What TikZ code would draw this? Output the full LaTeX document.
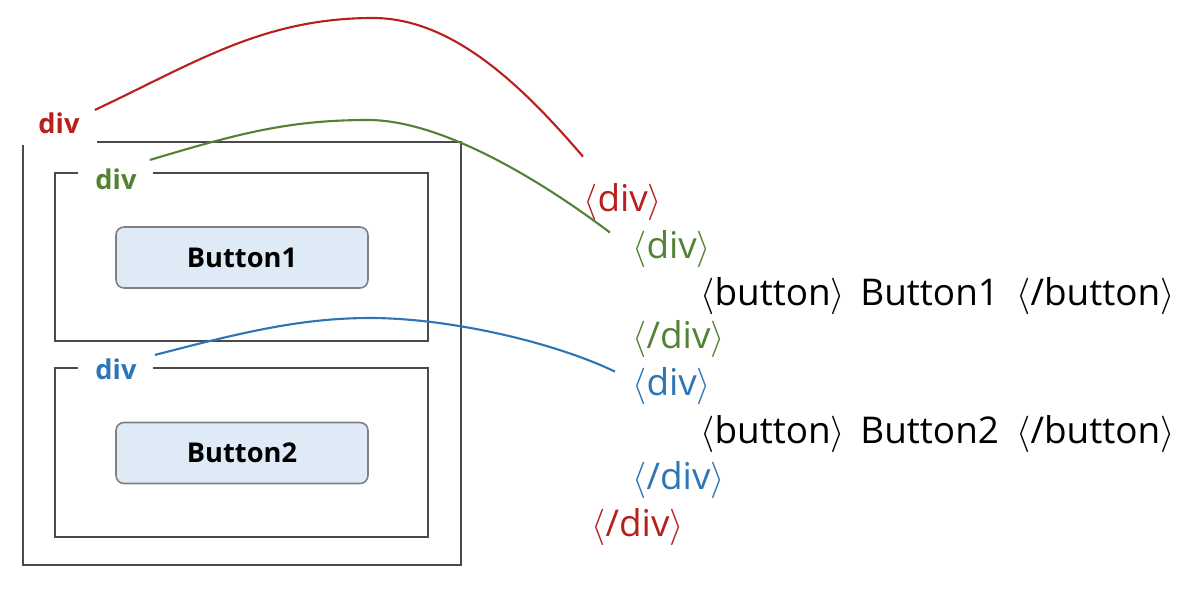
\documentclass[tikz,border=0pt]{standalone}
\usepackage{fontspec}
\setmainfont{Open Sans}
\usetikzlibrary{calc}
\definecolor{cred}{HTML}{B8201C}
\definecolor{cgreen}{HTML}{548235}
\definecolor{cblue}{HTML}{2E75B6}
\definecolor{bfill}{HTML}{DEEAF6}
\definecolor{bline}{HTML}{4A4A4A}
\newcommand\tagL{\ensuremath{\langle}}
\newcommand\tagR{\ensuremath{\rangle}}
\begin{document}
\begin{tikzpicture}[x=0.02cm,y=-0.02cm,
 boxline/.style={draw=bline, line width=1.1pt},
 lbl/.style={font=\fontsize{15.5}{18}\selectfont\bfseries, inner sep=0pt, anchor=base},
 btn/.style={draw=gray, fill=bfill, rounded corners=0.16cm, minimum width=5.04cm, minimum height=1.22cm, line width=0.9pt, font=\fontsize{15.5}{18}\selectfont\bfseries, inner sep=0pt},
 code/.style={font=\fontsize{21}{25}\selectfont, inner sep=0pt, anchor=base west},
 link/.style={line width=1.2pt}]
\useasboundingbox (0,0) rectangle (1200,592);

% boxes
\draw[boxline] (97,142) -| (461,565) -| (23,145);
\draw[boxline] (153,173) -| (428,341) -| (55,173) -- (78,173);
\draw[boxline] (153,368) -| (428,537) -| (55,368) -- (78,368);

% labels
\node[lbl, text=cred] (rlab) at (59,133) {div};
\node[lbl, text=cgreen] (glab) at (116,189) {div};
\node[lbl, text=cblue] (blab) at (116,379) {div};
\node[btn] (b1) at (242,257.5) {Button1};
\node[btn] (b2) at (242,453) {Button2};

% code
\node[code,text=cred] (t1) at (583,211) {\tagL div\tagR};
\node[code,text=cgreen] (t2) at (632,258) {\tagL div\tagR};
\node[code] (t3a) at (700,305) {\tagL button\tagR};
\node[code] (t3b) at (860,305) {Button1};
\node[code] (t3c) at (1016,305) {\tagL/button\tagR};
\node[code,text=cgreen] (t4) at (632,348) {\tagL/div\tagR};
\node[code,text=cblue] (t5) at (632,395) {\tagL div\tagR};
\node[code] (t6a) at (700,443) {\tagL button\tagR};
\node[code] (t6b) at (860,443) {Button2};
\node[code] (t6c) at (1016,443) {\tagL/button\tagR};
\node[code,text=cblue] (t7) at (632,489) {\tagL/div\tagR};
\node[code,text=cred] (t8) at (591,536) {\tagL/div\tagR};

% connectors
\coordinate (rpk) at (373,18);
\coordinate (gpk) at (368,120);
\coordinate (bpk) at (370,318);
\draw[link,cred] ($(rlab.north east)+(15,-2)$) .. controls +(100,-47) and +(-110,0) .. (rpk)
  .. controls +(80,0) and +(-60,-70) .. ($(t1.north west)+(0,-26)$);
\draw[link,cgreen] ($(glab.north east)+(13,-8)$) .. controls +(90,-27) and +(-78,0) .. (gpk)
  .. controls +(82,0) and +(-50,-38) .. ($(t2.north west)+(-22,3)$);
\draw[link,cblue] ($(blab.north east)+(18,-3)$) .. controls +(85,-22) and +(-70,0) .. (bpk)
  .. controls +(80,0) and +(-60,-29) .. ($(t5.north west)+(-17,5)$);
\end{tikzpicture}
\end{document}
